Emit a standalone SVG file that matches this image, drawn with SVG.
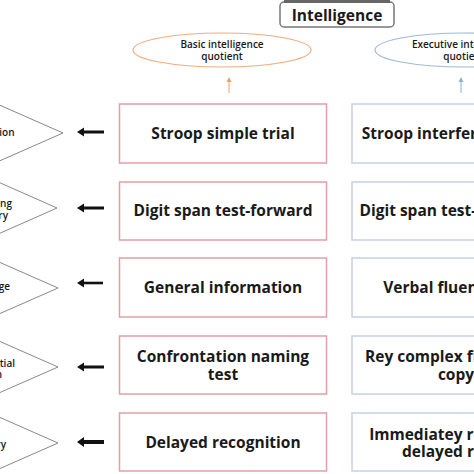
<svg xmlns="http://www.w3.org/2000/svg" width="474" height="474" viewBox="0 0 474 474">
<style>
.red{fill:#fff;stroke:#e49ea6;stroke-width:1.5}
.blue{fill:#fff;stroke:#c2d2e4;stroke-width:1.5}
.bt{font-family:"Open Sans","Liberation Sans",sans-serif;font-weight:bold;font-size:15.5px;fill:#1a1a1a;text-anchor:middle}
.et{font-family:"Open Sans","Liberation Sans",sans-serif;font-weight:600;font-size:10px;fill:#1a1a1a;text-anchor:middle}
.lt{font-family:"Open Sans","Liberation Sans",sans-serif;font-weight:600;font-size:10px;fill:#1a1a1a;text-anchor:end}
.pent{fill:#fff;stroke:#888;stroke-width:1}
.blk{stroke:#111;fill:none}
</style>
<rect width="474" height="474" fill="#fff"/>
<g id="intelligence">
<rect x="280" y="2" width="114" height="25" rx="4" fill="#fff" stroke="#777" stroke-width="1.5"/>
<line x1="284" y1="1.5" x2="390" y2="1.5" stroke="#666" stroke-width="3"/>
<text x="337" y="20.5" class="bt">Intelligence</text>
</g>
<g id="basic-iq">
<ellipse cx="222" cy="50" rx="89" ry="17" fill="#fff" stroke="#f0ab80" stroke-width="1.2"/>
<text x="222" y="48" class="et">Basic intelligence</text>
<text x="222" y="60" class="et">quotient</text>
</g>
<g id="executive-iq">
<ellipse cx="464" cy="50" rx="89" ry="17" fill="#fff" stroke="#9cbad8" stroke-width="1.2"/>
<text x="464" y="48" class="et">Executive intelligence</text>
<text x="464" y="60" class="et">quotient</text>
</g>
<g id="red-boxes">
<g id="r1"><rect x="119.5" y="104" width="207" height="59" class="red"/><text x="223" y="139" class="bt">Stroop simple trial</text></g>
<g id="r2"><rect x="119.5" y="182" width="207" height="58" class="red"/><text x="223" y="216" class="bt">Digit span test-forward</text></g>
<g id="r3"><rect x="119.5" y="258" width="207" height="59" class="red"/><text x="223" y="293" class="bt">General information</text></g>
<g id="r4"><rect x="119.5" y="336" width="207" height="58" class="red"/><text x="223" y="361.5" class="bt">Confrontation naming</text><text x="223" y="379.5" class="bt">test</text></g>
<g id="r5"><rect x="119.5" y="413" width="207" height="58" class="red"/><text x="223" y="448" class="bt">Delayed recognition</text></g>
</g>
<g id="blue-boxes">
<g id="b1"><rect x="352" y="104" width="207" height="59" class="blue"/><text x="456" y="139" class="bt">Stroop interference trial</text></g>
<g id="b2"><rect x="352" y="182" width="207" height="58" class="blue"/><text x="456" y="216" class="bt">Digit span test-backward</text></g>
<g id="b3"><rect x="352" y="258" width="207" height="59" class="blue"/><text x="456" y="293" class="bt">Verbal fluency test</text></g>
<g id="b4"><rect x="352" y="336" width="207" height="58" class="blue"/><text x="456" y="361.5" class="bt">Rey complex figure test</text><text x="456" y="379.5" class="bt">copy</text></g>
<g id="b5"><rect x="352" y="413" width="207" height="58" class="blue"/><text x="456" y="440" class="bt">Immediatey recall and</text><text x="456" y="457" class="bt">delayed recall</text></g>
</g>
<g id="domains">
<g id="d1"><polygon points="-20,96.5 63,133 -20,169.5" class="pent"/><text x="14.5" y="136" class="lt">Attention</text></g>
<g id="d2"><polygon points="-20,174 57,208 -20,242" class="pent"/><text x="12" y="207" class="lt">Working</text><text x="8" y="219" class="lt">memory</text></g>
<g id="d3"><polygon points="-20,253.7 58,288 -20,322.3" class="pent"/><text x="10" y="290" class="lt">Language</text></g>
<g id="d4"><polygon points="-20,332.7 58,367 -20,401.3" class="pent"/><text x="15" y="366.5" class="lt">Visuospatial</text><text x="2" y="378" class="lt">function</text></g>
<g id="d5"><polygon points="-20,408.7 58,443 -20,477.3" class="pent"/><text x="6" y="448" class="lt">Memory</text></g>
</g>
<g id="connectors">
<line x1="229" y1="93" x2="229" y2="81" stroke="#f0a070" stroke-width="1"/>
<polygon points="229,77 226.5,82 231.5,82" fill="#f0a070"/>
<line x1="461" y1="93" x2="461" y2="81" stroke="#8fb0d0" stroke-width="1"/>
<polygon points="461,77 458.5,82 463.5,82" fill="#8fb0d0"/>
<line x1="104" y1="132" x2="83" y2="132" class="blk" stroke-width="3"/><polygon points="77,132 84,127.5 84,136.5" fill="#111"/>
<line x1="104" y1="208" x2="83" y2="208" class="blk" stroke-width="3"/><polygon points="77,208 84,203.5 84,212.5" fill="#111"/>
<line x1="103" y1="283" x2="83" y2="283" class="blk" stroke-width="2.6"/><polygon points="77,283 84,278.5 84,287.5" fill="#111"/>
<line x1="104" y1="367" x2="83" y2="367" class="blk" stroke-width="3"/><polygon points="77,367 84,362.5 84,371.5" fill="#111"/>
<line x1="104" y1="442" x2="83" y2="442" class="blk" stroke-width="4"/><polygon points="77,442 84,437 84,447" fill="#111"/>
</g>
</svg>
